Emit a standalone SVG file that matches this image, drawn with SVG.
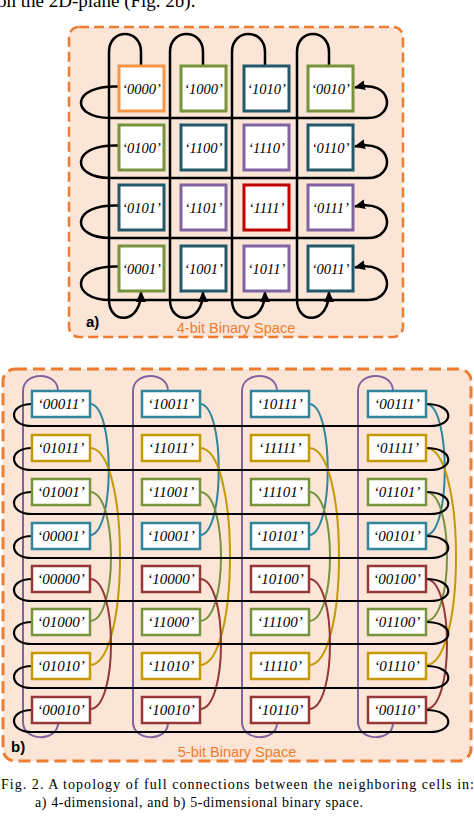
<svg xmlns="http://www.w3.org/2000/svg" width="474" height="834" viewBox="0 0 474 834">
<style>
.panel{fill:#fbe5d6;stroke:#ed7d31;stroke-width:2.5;stroke-dasharray:10 5}
.panelb{fill:#fbe5d6;stroke:#ed7d31;stroke-width:3;stroke-dasharray:12 6}
.blk{fill:none;stroke:#000;stroke-width:2.5}
.blk5{fill:none;stroke:#000;stroke-width:2.2}
.b4{fill:#fff;stroke-width:3}
.b5{fill:#fff;stroke-width:2.5}
.t4{font-family:"Liberation Serif",serif;font-style:italic;font-size:14.5px;text-anchor:middle}
.t5{font-family:"Liberation Serif",serif;font-style:italic;font-size:15px;text-anchor:middle}
.lab{font-family:"Liberation Sans",Arial,sans-serif;font-weight:bold;font-size:15px}
.sp{font-family:"Liberation Sans",Arial,sans-serif;font-size:14.5px;fill:#ed7d31;text-anchor:middle}
.cap{font-family:"Liberation Serif",serif;font-size:14px}
.or{stroke:#f79646}.gr{stroke:#77933c}.tl{stroke:#23586b}.pu{stroke:#8064a2}.rd{stroke:#c00000}
.tq{stroke:#31859c}.gd{stroke:#c49a00}.g5{stroke:#77933c}.r5{stroke:#953735}
.arc{fill:none;stroke-width:2}
.pv{fill:none;stroke:#8064a2;stroke-width:2}
</style>
<defs>
<marker id="ah" markerUnits="userSpaceOnUse" markerWidth="11" markerHeight="10" viewBox="0 0 11 10" refX="10" refY="5" orient="auto">
<path d="M0,0 L11,5 L0,10 z" fill="#000"/>
</marker>
</defs>

<text x="-3" y="7" font-family="Liberation Serif,serif" font-size="19">on the 2D-plane (Fig. 2b).</text>

<!-- Panel a -->
<rect class="panel" x="69" y="27" width="334" height="310" rx="10"/>
<g id="connectors-a">
<path class="blk" marker-end="url(#ah)" d="M141,66 L141,52 C141,28 109,28 109,52 L109,300 C109,325 141,325 141,292"/>
<path class="blk" marker-end="url(#ah)" d="M203,66 L203,52 C203,28 170,28 170,52 L170,300 C170,325 203,325 203,292"/>
<path class="blk" marker-end="url(#ah)" d="M265,66 L265,52 C265,28 232,28 232,52 L232,300 C232,325 265,325 265,292"/>
<path class="blk" marker-end="url(#ah)" d="M329,66 L329,52 C329,28 297,28 297,52 L297,300 C297,325 329,325 329,292"/>
<path class="blk" marker-end="url(#ah)" d="M119,86.5 C70,84.5 70,118 110,118 L368,118 C396,118 394,78.5 355,87.5"/>
<path class="blk" marker-end="url(#ah)" d="M119,145.5 C70,143.5 70,178 110,178 L368,178 C396,178 394,137.5 355,146.5"/>
<path class="blk" marker-end="url(#ah)" d="M119,205.5 C70,203.5 70,238 110,238 L368,238 C396,238 394,197.5 355,206.5"/>
<path class="blk" marker-end="url(#ah)" d="M119,266.5 C70,264.5 70,300 110,300 L368,300 C396,300 394,258.5 355,267.5"/>
</g>
<g id="nodes-a">
<g id="n0000"><rect class="b4 or" x="119" y="66" width="45" height="45"/><text class="t4" x="141.5" y="93.5">‘0000’</text></g>
<g id="n1000"><rect class="b4 gr" x="181" y="66" width="45" height="45"/><text class="t4" x="203.5" y="93.5">‘1000’</text></g>
<g id="n1010"><rect class="b4 tl" x="244" y="66" width="45" height="45"/><text class="t4" x="266.5" y="93.5">‘1010’</text></g>
<g id="n0010"><rect class="b4 gr" x="308" y="66" width="45" height="45"/><text class="t4" x="330.5" y="93.5">‘0010’</text></g>
<g id="n0100"><rect class="b4 gr" x="119" y="125" width="45" height="45"/><text class="t4" x="141.5" y="152.5">‘0100’</text></g>
<g id="n1100"><rect class="b4 tl" x="181" y="125" width="45" height="45"/><text class="t4" x="203.5" y="152.5">‘1100’</text></g>
<g id="n1110"><rect class="b4 pu" x="244" y="125" width="45" height="45"/><text class="t4" x="266.5" y="152.5">‘1110’</text></g>
<g id="n0110"><rect class="b4 tl" x="308" y="125" width="45" height="45"/><text class="t4" x="330.5" y="152.5">‘0110’</text></g>
<g id="n0101"><rect class="b4 tl" x="119" y="185" width="45" height="45"/><text class="t4" x="141.5" y="212.5">‘0101’</text></g>
<g id="n1101"><rect class="b4 pu" x="181" y="185" width="45" height="45"/><text class="t4" x="203.5" y="212.5">‘1101’</text></g>
<g id="n1111"><rect class="b4 rd" x="244" y="185" width="45" height="45"/><text class="t4" x="266.5" y="212.5">‘1111’</text></g>
<g id="n0111"><rect class="b4 pu" x="308" y="185" width="45" height="45"/><text class="t4" x="330.5" y="212.5">‘0111’</text></g>
<g id="n0001"><rect class="b4 gr" x="119" y="246" width="45" height="45"/><text class="t4" x="141.5" y="273.5">‘0001’</text></g>
<g id="n1001"><rect class="b4 tl" x="181" y="246" width="45" height="45"/><text class="t4" x="203.5" y="273.5">‘1001’</text></g>
<g id="n1011"><rect class="b4 pu" x="244" y="246" width="45" height="45"/><text class="t4" x="266.5" y="273.5">‘1011’</text></g>
<g id="n0011"><rect class="b4 tl" x="308" y="246" width="45" height="45"/><text class="t4" x="330.5" y="273.5">‘0011’</text></g>
</g>
<text class="lab" x="86" y="327">a)</text>
<text class="sp" x="236" y="333">4-bit Binary Space</text>

<!-- Panel b -->
<rect class="panelb" x="3" y="369" width="468" height="392" rx="12"/>
<g id="connectors-b">
<g id="purple">
<path class="pv" d="M58,391 C58,371 23,371 23,391 L23,722 C23,742 58,742 58,723"/>
<path class="pv" d="M168,391 C168,371 133,371 133,391 L133,722 C133,742 168,742 168,723"/>
<path class="pv" d="M277,391 C277,371 242,371 242,391 L242,722 C242,742 277,742 277,723"/>
<path class="pv" d="M393,391 C393,371 358,371 358,391 L358,722 C358,742 393,742 393,723"/>
</g>
<g id="arcs">
<path class="arc tq" d="M90,404 C115,404 115,535 90,535"/>
<path class="arc gd" d="M90,448 C130,448 130,665 90,665"/>
<path class="arc g5" d="M90,492 C118,492 118,621 90,621"/>
<path class="arc r5" d="M90,579 C118,579 118,709 90,709"/>
<path class="arc tq" d="M200,404 C225,404 225,535 200,535"/>
<path class="arc gd" d="M200,448 C240,448 240,665 200,665"/>
<path class="arc g5" d="M200,492 C228,492 228,621 200,621"/>
<path class="arc r5" d="M200,579 C228,579 228,709 200,709"/>
<path class="arc tq" d="M309,404 C334,404 334,535 309,535"/>
<path class="arc gd" d="M309,448 C349,448 349,665 309,665"/>
<path class="arc g5" d="M309,492 C337,492 337,621 309,621"/>
<path class="arc r5" d="M309,579 C337,579 337,709 309,709"/>
<path class="arc tq" d="M426,404 C451,404 451,535 426,535"/>
<path class="arc gd" d="M426,448 C466,448 466,665 426,665"/>
<path class="arc g5" d="M426,492 C454,492 454,621 426,621"/>
<path class="arc r5" d="M426,579 C454,579 454,709 426,709"/>
</g>
<g id="rows">
<path class="blk5" d="M32,404 C8,404 8,426 32,426 L430,426 C455,426 455,404 426,404"/>
<path class="blk5" d="M32,448 C8,448 8,470 32,470 L430,470 C455,470 455,448 426,448"/>
<path class="blk5" d="M32,492 C8,492 8,514 32,514 L430,514 C455,514 455,492 426,492"/>
<path class="blk5" d="M32,536 C8,536 8,558 32,558 L430,558 C455,558 455,536 426,536"/>
<path class="blk5" d="M32,579 C8,579 8,601 32,601 L430,601 C455,601 455,579 426,579"/>
<path class="blk5" d="M32,622 C8,622 8,644 32,644 L430,644 C455,644 455,622 426,622"/>
<path class="blk5" d="M32,666 C8,666 8,688 32,688 L430,688 C455,688 455,666 426,666"/>
<path class="blk5" d="M32,710 C8,710 8,732 32,732 L430,732 C455,732 455,710 426,710"/>
</g>
</g>
<g id="nodes-b">
<g id="n00011"><rect class="b5 tq" x="32" y="391" width="58" height="26"/><text class="t5" x="61" y="409">‘00011’</text></g>
<g id="n10011"><rect class="b5 tq" x="142" y="391" width="58" height="26"/><text class="t5" x="171" y="409">‘10011’</text></g>
<g id="n10111"><rect class="b5 tq" x="251" y="391" width="58" height="26"/><text class="t5" x="280" y="409">‘10111’</text></g>
<g id="n00111"><rect class="b5 tq" x="368" y="391" width="58" height="26"/><text class="t5" x="397" y="409">‘00111’</text></g>
<g id="n01011"><rect class="b5 gd" x="32" y="435" width="58" height="26"/><text class="t5" x="61" y="453">‘01011’</text></g>
<g id="n11011"><rect class="b5 gd" x="142" y="435" width="58" height="26"/><text class="t5" x="171" y="453">‘11011’</text></g>
<g id="n11111"><rect class="b5 gd" x="251" y="435" width="58" height="26"/><text class="t5" x="280" y="453">‘11111’</text></g>
<g id="n01111"><rect class="b5 gd" x="368" y="435" width="58" height="26"/><text class="t5" x="397" y="453">‘01111’</text></g>
<g id="n01001"><rect class="b5 g5" x="32" y="479" width="58" height="26"/><text class="t5" x="61" y="497">‘01001’</text></g>
<g id="n11001"><rect class="b5 g5" x="142" y="479" width="58" height="26"/><text class="t5" x="171" y="497">‘11001’</text></g>
<g id="n11101"><rect class="b5 g5" x="251" y="479" width="58" height="26"/><text class="t5" x="280" y="497">‘11101’</text></g>
<g id="n01101"><rect class="b5 g5" x="368" y="479" width="58" height="26"/><text class="t5" x="397" y="497">‘01101’</text></g>
<g id="n00001"><rect class="b5 tq" x="32" y="523" width="58" height="26"/><text class="t5" x="61" y="541">‘00001’</text></g>
<g id="n10001"><rect class="b5 tq" x="142" y="523" width="58" height="26"/><text class="t5" x="171" y="541">‘10001’</text></g>
<g id="n10101"><rect class="b5 tq" x="251" y="523" width="58" height="26"/><text class="t5" x="280" y="541">‘10101’</text></g>
<g id="n00101"><rect class="b5 tq" x="368" y="523" width="58" height="26"/><text class="t5" x="397" y="541">‘00101’</text></g>
<g id="n00000"><rect class="b5 r5" x="32" y="566" width="58" height="26"/><text class="t5" x="61" y="584">‘00000’</text></g>
<g id="n10000"><rect class="b5 r5" x="142" y="566" width="58" height="26"/><text class="t5" x="171" y="584">‘10000’</text></g>
<g id="n10100"><rect class="b5 r5" x="251" y="566" width="58" height="26"/><text class="t5" x="280" y="584">‘10100’</text></g>
<g id="n00100"><rect class="b5 r5" x="368" y="566" width="58" height="26"/><text class="t5" x="397" y="584">‘00100’</text></g>
<g id="n01000"><rect class="b5 g5" x="32" y="609" width="58" height="26"/><text class="t5" x="61" y="627">‘01000’</text></g>
<g id="n11000"><rect class="b5 g5" x="142" y="609" width="58" height="26"/><text class="t5" x="171" y="627">‘11000’</text></g>
<g id="n11100"><rect class="b5 g5" x="251" y="609" width="58" height="26"/><text class="t5" x="280" y="627">‘11100’</text></g>
<g id="n01100"><rect class="b5 g5" x="368" y="609" width="58" height="26"/><text class="t5" x="397" y="627">‘01100’</text></g>
<g id="n01010"><rect class="b5 gd" x="32" y="653" width="58" height="26"/><text class="t5" x="61" y="671">‘01010’</text></g>
<g id="n11010"><rect class="b5 gd" x="142" y="653" width="58" height="26"/><text class="t5" x="171" y="671">‘11010’</text></g>
<g id="n11110"><rect class="b5 gd" x="251" y="653" width="58" height="26"/><text class="t5" x="280" y="671">‘11110’</text></g>
<g id="n01110"><rect class="b5 gd" x="368" y="653" width="58" height="26"/><text class="t5" x="397" y="671">‘01110’</text></g>
<g id="n00010"><rect class="b5 r5" x="32" y="697" width="58" height="26"/><text class="t5" x="61" y="715">‘00010’</text></g>
<g id="n10010"><rect class="b5 r5" x="142" y="697" width="58" height="26"/><text class="t5" x="171" y="715">‘10010’</text></g>
<g id="n10110"><rect class="b5 r5" x="251" y="697" width="58" height="26"/><text class="t5" x="280" y="715">‘10110’</text></g>
<g id="n00110"><rect class="b5 r5" x="368" y="697" width="58" height="26"/><text class="t5" x="397" y="715">‘00110’</text></g>
</g>
<text class="lab" x="11" y="752">b)</text>
<text class="sp" x="237" y="757" font-size="15">5-bit Binary Space</text>

<text class="cap" x="1" y="789" textLength="473" lengthAdjust="spacing">Fig. 2.  A topology of full connections between the neighboring cells in:</text>
<text class="cap" x="35" y="807" textLength="328" lengthAdjust="spacing">a) 4-dimensional, and b) 5-dimensional binary space.</text>
</svg>
